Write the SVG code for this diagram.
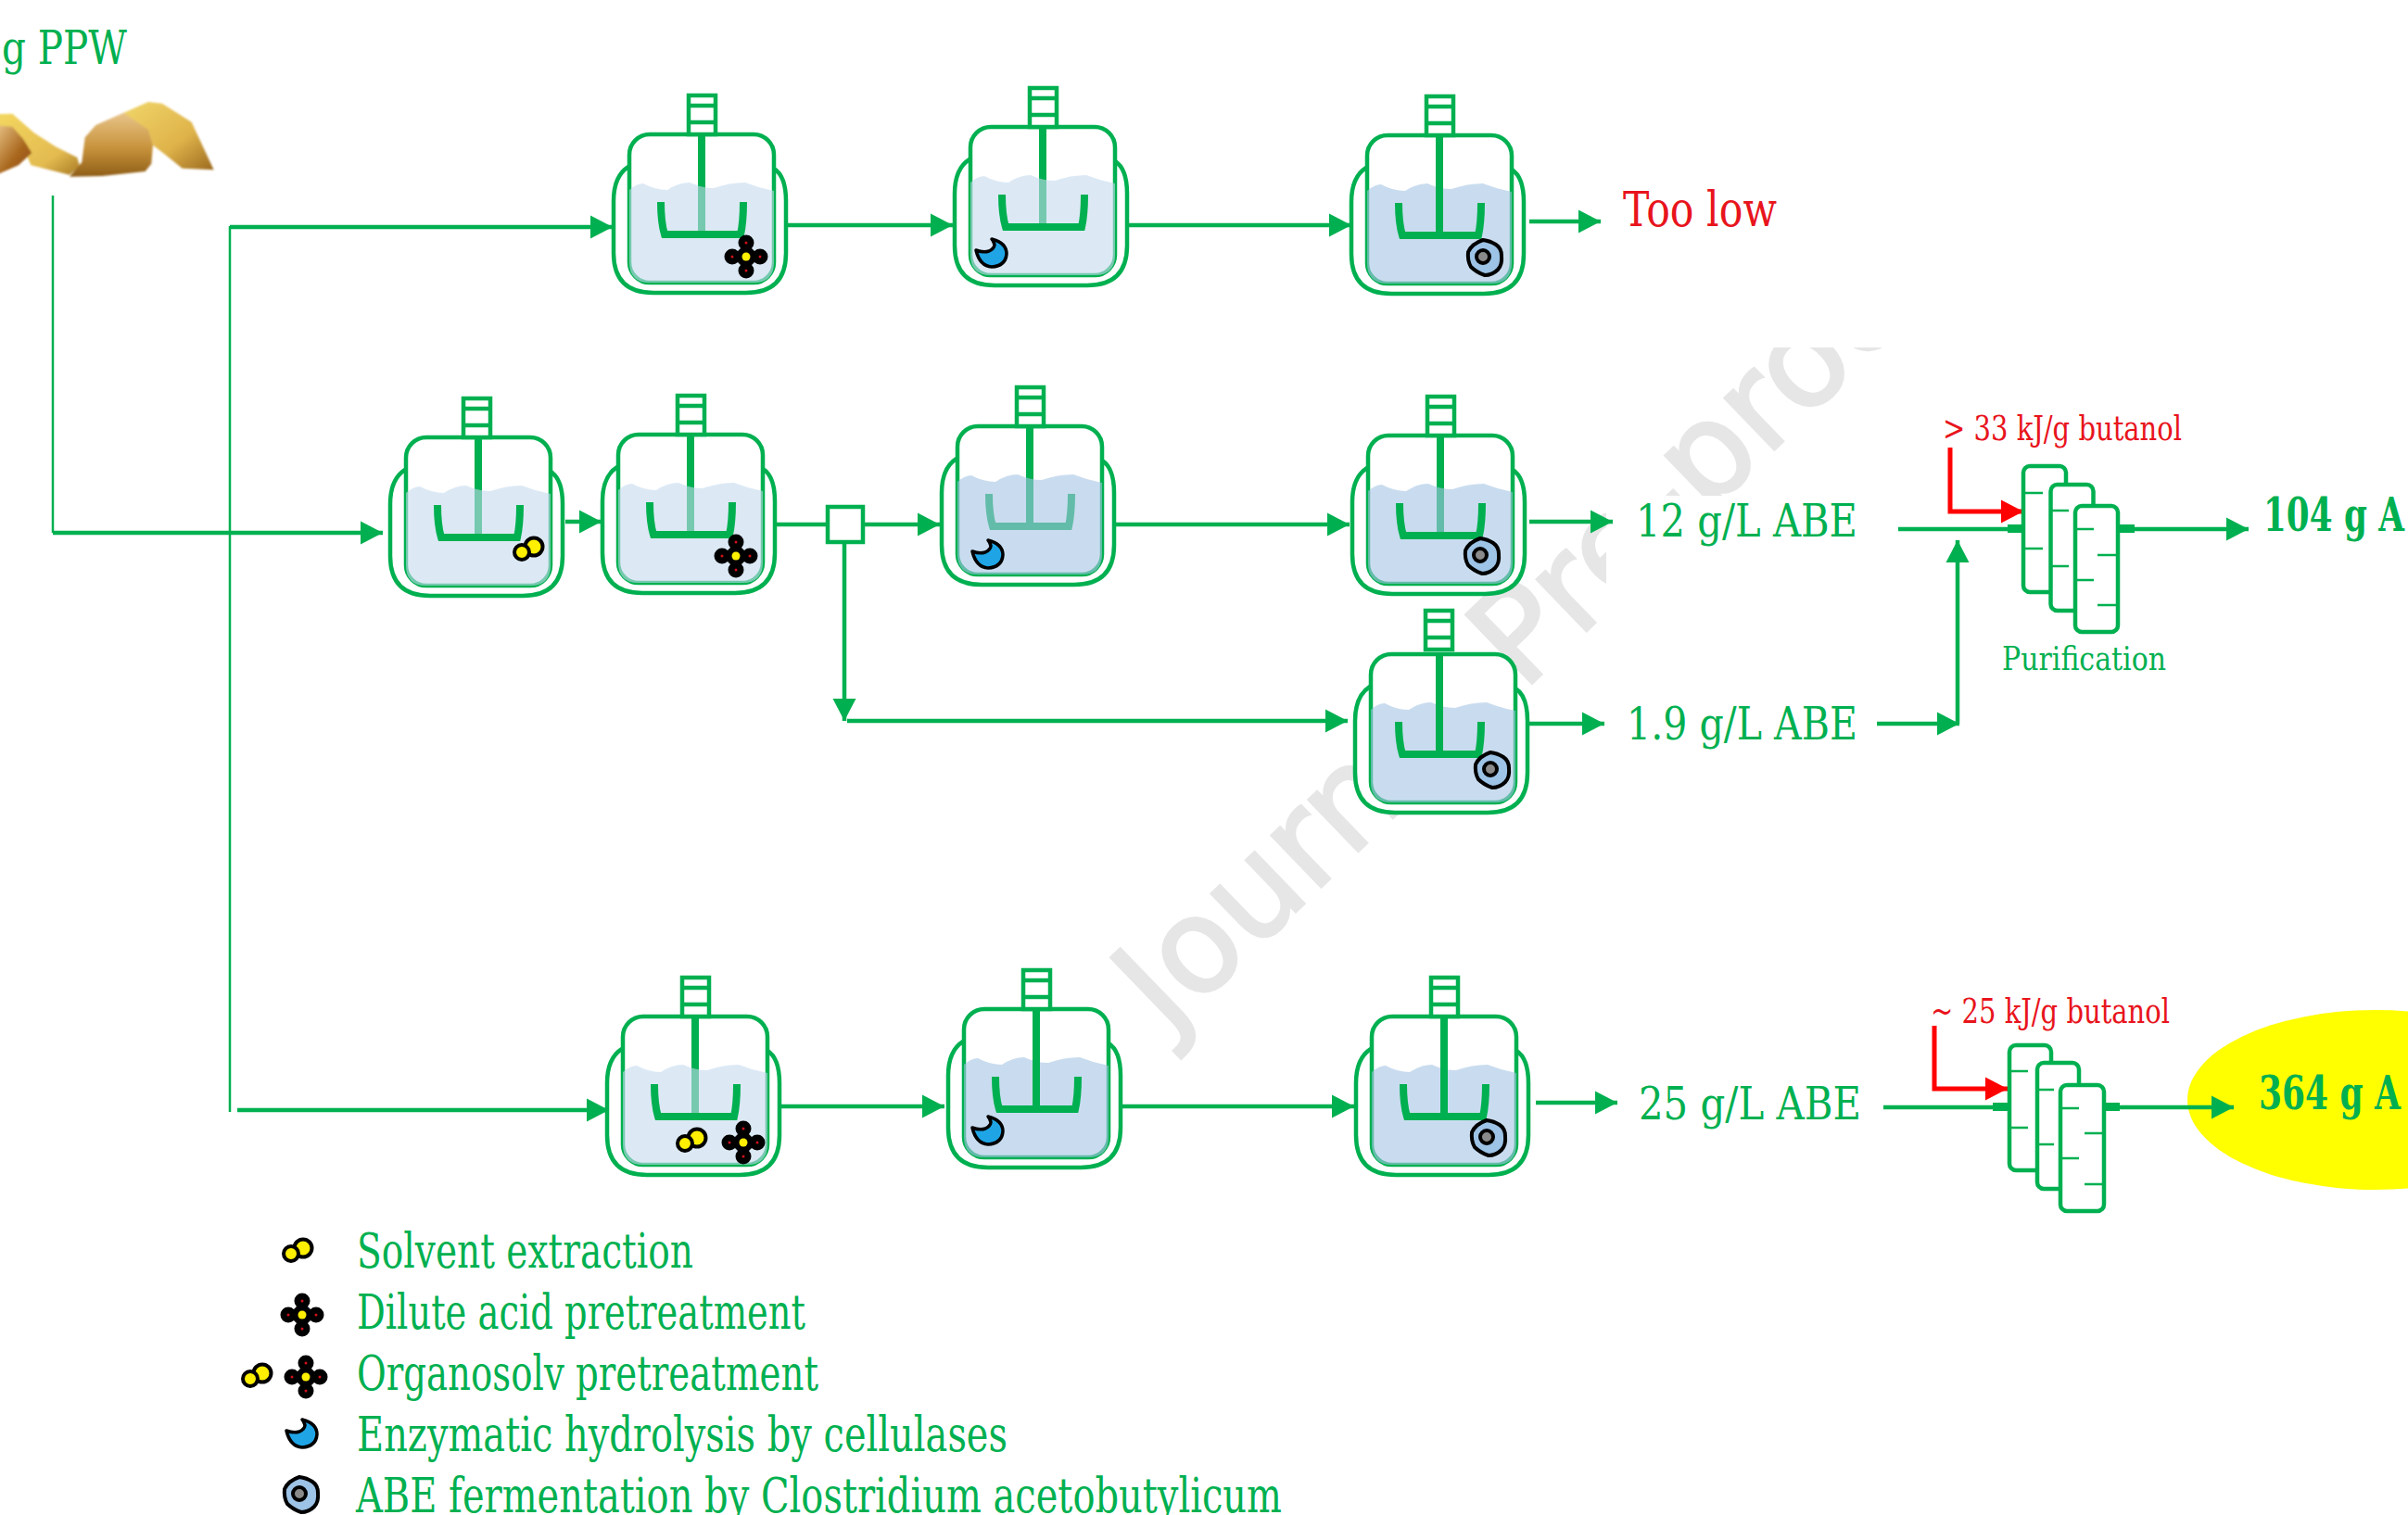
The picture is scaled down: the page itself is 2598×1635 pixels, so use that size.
<svg xmlns="http://www.w3.org/2000/svg" width="2598" height="1635" viewBox="0 0 2598 1635">
<style>
.t{font-family:"DejaVu Serif","Liberation Serif",serif;fill:#00b050}
.r{font-family:"DejaVu Serif","Liberation Serif",serif;fill:#e8141c}
.b{font-weight:700}
.g{fill:none;stroke:#00b050;stroke-width:4.5}
.w{fill:#fff;stroke:#00b050;stroke-width:4.5}
.c{fill:none;stroke:#00b050;stroke-width:4.5}
.thin{fill:none;stroke:#00b050;stroke-width:2.5}
.red{fill:none;stroke:#ff0000;stroke-width:5}
.tick{stroke:#00b050;stroke-width:2.5}
.stub{fill:#00b050}
.lo{fill:#c5daee;fill-opacity:.6}
.hi{fill:#a5c5e4;fill-opacity:.6}
.wm{font-family:"DejaVu Sans","Open Sans",sans-serif;font-size:141px;fill:#e6e6e6;stroke:#e6e6e6;stroke-width:3}
</style>
<defs>
<marker id="ah" markerUnits="userSpaceOnUse" markerWidth="25" markerHeight="26" refX="24" refY="13" orient="auto"><path d="M0 0.5L24 13L0 25.5Z" fill="#00b050"/></marker>
<marker id="ar" markerUnits="userSpaceOnUse" markerWidth="25" markerHeight="26" refX="24" refY="13" orient="auto"><path d="M0 0.5L24 13L0 25.5Z" fill="#ff0000"/></marker>
<clipPath id="wc"><path d="M0 375H2598V535H1733V1635H0Z"/></clipPath>
<filter id="soft" x="-5%" y="-5%" width="110%" height="110%"><feGaussianBlur stdDeviation="3.5"/></filter>
<linearGradient id="p1" x1="0" y1="0" x2="0" y2="1"><stop offset="0" stop-color="#e8c48a"/><stop offset=".55" stop-color="#c8933c"/><stop offset="1" stop-color="#8f5e18"/></linearGradient>
<linearGradient id="p2" x1="0" y1="0" x2="1" y2="1"><stop offset="0" stop-color="#f0d66a"/><stop offset=".6" stop-color="#dfb34a"/><stop offset="1" stop-color="#9c6a1e"/></linearGradient>
<linearGradient id="p3" x1="0" y1="0" x2="1" y2="1"><stop offset="0" stop-color="#f4d860"/><stop offset=".7" stop-color="#e3bb50"/><stop offset="1" stop-color="#a87a24"/></linearGradient>
<linearGradient id="p4" x1="0" y1="0" x2="1" y2="1"><stop offset="0" stop-color="#ecc88c"/><stop offset=".6" stop-color="#a8661c"/><stop offset="1" stop-color="#8f4a14"/></linearGradient>
<g id="base">
<path class="w" d="M-79 35Q-95 45-95 72V128Q-95 171-52 171H48Q91 171 91 128V72Q91 45 78 37"/>
<rect class="w" x="-78" y="0" width="156" height="160" rx="22"/>
</g>
<g id="cap"><rect class="w" x="-14" y="-42" width="29" height="42"/><path class="g" d="M-16-31H16M-16-13H16"/></g>
<rect id="shaft" x="-4" y="0" width="8" height="108" fill="#00b050"/>
<path id="liquid" d="M-78 60Q-70 53-63 53Q-50 60-37 60Q-25 52-13 52Q0 58 13 58Q30 52 47 52Q62 58 78 61V138Q78 160 56 160H-56Q-78 160-78 138Z"/>
<path id="paddle" d="M-44 73Q-44 95-40 108H42Q45 95 45 73" fill="none" stroke="#00b050" stroke-width="8"/>
<g id="acid"><path d="M0-15L15 0L0 15L-15 0Z" fill="#000"/><circle cy="-15" r="8.5"/><circle cy="15" r="8.5"/><circle cx="-15" r="8.5"/><circle cx="15" r="8.5"/><circle r="4.5" fill="#ffef00"/><g fill="#d0101c"><circle cy="-15" r="1.5"/><circle cy="15" r="1.5"/><circle cx="-15" r="1.5"/><circle cx="15" r="1.5"/></g></g>
<g id="solvent" fill="#ffef00" stroke="#000" stroke-width="4"><circle cx="6" cy="-3" r="9.5"/><circle cx="-7" cy="3" r="8"/></g>
<path id="enzyme" fill="#1fa5e6" stroke="#000" stroke-width="3.5" stroke-linejoin="round" d="M1-15Q17-11 17 1Q16 14 1 15Q-12 14-16-3Q-8 0-2-2Q4-5 4-9Q3-13 1-15Z"/>
<g id="cell"><path fill="#9dc3e6" stroke="#000" stroke-width="4" stroke-linejoin="round" d="M-2-19Q6-18 12-14Q18-10 18-2Q19 8 14 13Q8 19 0 19Q-9 16-15 10Q-19 3-18-6Q-14-15-2-19Z"/><circle cx="-2" cy="-1" r="7" fill="#8a8a8a" stroke="#000" stroke-width="4"/></g>
</defs>

<rect width="2598" height="1635" fill="#fff"/>
<g clip-path="url(#wc)"><text class="wm" transform="translate(1260 1117) rotate(-44)">Journal Pre-proo</text></g>

<g id="potato-peel" transform="translate(0 90) scale(.3333)" filter="url(#soft)">
<path fill="url(#p3)" d="M-20 100L40 98L110 160L180 205L250 240L258 268L225 296L100 265L60 170L-20 130Z"/>
<path fill="url(#p4)" d="M-20 135L40 140L75 180L103 225L60 265L-20 300Z"/>
<path fill="url(#p1)" d="M225 302L265 255L275 175L310 135L400 95L470 100L495 200L490 260L470 285L330 300Z"/>
<path fill="url(#p2)" d="M400 95L480 60L525 65L620 125L692 280L590 275L540 235L495 200L480 150Z"/>
</g>
<ellipse id="product-highlight" cx="2563" cy="1187" rx="203" ry="97" fill="#ffff00"/>

<g id="connectors">
<path class="thin" d="M57 211V575"/>
<path class="c" d="M57 575H413" marker-end="url(#ah)"/>
<path class="thin" d="M248 244V1200"/>
<path class="c" d="M248 245H661" marker-end="url(#ah)"/>
<path class="c" d="M256 1198H657" marker-end="url(#ah)"/>
<path class="c" d="M848 243H1028" marker-end="url(#ah)"/>
<path class="c" d="M1215 243H1458" marker-end="url(#ah)"/>
<path class="c" d="M1650 239H1727" marker-end="url(#ah)"/>
<path class="c" d="M610 563H649" marker-end="url(#ah)"/>
<path class="c" d="M838 566H893"/>
<path class="c" d="M931 566H1014" marker-end="url(#ah)"/>
<path class="c" d="M1202 566H1456" marker-end="url(#ah)"/>
<path class="c" d="M1650 563H1740" marker-end="url(#ah)"/>
<path class="c" d="M911 585V778" marker-end="url(#ah)"/>
<path class="c" d="M914 778H1454" marker-end="url(#ah)"/>
<path class="c" d="M1642 781H1731" marker-end="url(#ah)"/>
<path class="c" d="M2025 781H2114" marker-end="url(#ah)"/>
<path class="c" d="M2112 781V583" marker-end="url(#ah)"/>
<path class="c" d="M2048 571H2183"/>
<path class="c" d="M2285 571H2426" marker-end="url(#ah)"/>
<path class="red" d="M2104 483V552H2183" marker-end="url(#ar)"/>
<path class="c" d="M842 1194H1019" marker-end="url(#ah)"/>
<path class="c" d="M1208 1194H1461" marker-end="url(#ah)"/>
<path class="c" d="M1657 1190H1745" marker-end="url(#ah)"/>
<path class="c" d="M2032 1195H2168"/>
<path class="c" d="M2270 1195H2410" marker-end="url(#ah)"/>
<path class="red" d="M2087 1107V1175H2166" marker-end="url(#ar)"/>
<rect class="stub" x="2166" y="566" width="17" height="9"/>
<rect class="stub" x="2285" y="566" width="18" height="9"/>
<rect class="stub" x="2150" y="1190" width="17" height="9"/>
<rect class="stub" x="2270" y="1190" width="17" height="9"/>
</g>

<g id="splitter"><rect class="w" x="893" y="547" width="38" height="38" stroke-width="3"/></g>

<g id="reactor-top-1" transform="translate(757 145)"><use href="#base"/><use href="#cap"/><use href="#shaft"/><use href="#liquid" class="lo"/><use href="#paddle"/><use href="#acid" x="48" y="132"/></g>
<g id="reactor-top-2" transform="translate(1125 137)"><use href="#base"/><use href="#cap"/><use href="#shaft"/><use href="#liquid" class="lo"/><use href="#paddle"/><use href="#enzyme" x="-56" y="136"/></g>
<g id="reactor-top-3" transform="translate(1553 146)"><use href="#base"/><use href="#cap"/><use href="#liquid" class="hi"/><use href="#shaft"/><use href="#paddle"/><use href="#cell" x="49" y="132"/></g>
<g id="reactor-mid-1" transform="translate(516 472)"><use href="#base"/><use href="#cap" x="-2"/><use href="#shaft"/><use href="#liquid" class="lo"/><use href="#paddle"/><use href="#solvent" x="54" y="121"/></g>
<g id="reactor-mid-2" transform="translate(745 469)"><use href="#base"/><use href="#cap"/><use href="#shaft"/><use href="#liquid" class="lo"/><use href="#paddle"/><use href="#acid" x="49" y="131"/></g>
<g id="reactor-mid-3" transform="translate(1111 460)"><use href="#base"/><use href="#cap"/><use href="#shaft"/><use href="#paddle"/><use href="#liquid" class="hi"/><use href="#enzyme" x="-46" y="138"/></g>
<g id="reactor-mid-4" transform="translate(1554 470)"><use href="#base"/><use href="#cap"/><use href="#shaft"/><use href="#liquid" class="hi"/><use href="#paddle"/><use href="#cell" x="45" y="130"/></g>
<g id="reactor-mid-5" transform="translate(1557 706)"><use href="#base"/><use href="#cap" x="-5" y="-5"/><use href="#liquid" class="hi"/><use href="#shaft" x="-4"/><use href="#paddle" x="-4"/><use href="#cell" x="53" y="125"/></g>
<g id="reactor-low-1" transform="translate(750 1097)"><use href="#base"/><use href="#cap"/><use href="#shaft"/><use href="#liquid" class="lo"/><use href="#paddle"/><use href="#solvent" x="-4" y="134"/><use href="#acid" x="52" y="136"/></g>
<g id="reactor-low-2" transform="translate(1118 1089)"><use href="#base"/><use href="#cap"/><use href="#liquid" class="hi"/><use href="#shaft"/><use href="#paddle"/><use href="#enzyme" x="-53" y="131"/></g>
<g id="reactor-low-3" transform="translate(1558 1097)"><use href="#base"/><use href="#cap"/><use href="#liquid" class="hi"/><use href="#shaft"/><use href="#paddle"/><use href="#cell" x="48" y="131"/></g>

<g id="column-upper">
<rect class="w" x="2183" y="503" width="46" height="136" rx="7"/><rect class="w" x="2212.5" y="523" width="46" height="136" rx="7"/><rect class="w" x="2239" y="546" width="46" height="136" rx="7"/>
<path class="tick" d="M2185 532H2204M2185 592H2204M2214 551H2232M2214 611H2232M2241 571H2259M2241 626H2259M2263 599H2283M2263 653H2283"/>
</g>
<g id="column-lower">
<rect class="w" x="2168" y="1128" width="45" height="135" rx="7"/><rect class="w" x="2198" y="1147" width="45" height="136" rx="7"/><rect class="w" x="2223" y="1171" width="47" height="136" rx="7"/>
<path class="tick" d="M2170 1156H2188M2170 1217H2188M2200 1176H2216M2200 1235H2216M2225 1196H2243M2225 1250H2243M2249 1223H2268M2249 1278H2268"/>
</g>

<text class="t" x="2" y="69" font-size="50" textLength="135" lengthAdjust="spacingAndGlyphs">g PPW</text>
<text class="r" x="1751" y="244" font-size="52" textLength="166" lengthAdjust="spacingAndGlyphs">Too low</text>
<text class="t" x="1765" y="579" font-size="48" textLength="239" lengthAdjust="spacingAndGlyphs">12 g/L ABE</text>
<text class="t" x="1755" y="798" font-size="48" textLength="249" lengthAdjust="spacingAndGlyphs">1.9 g/L ABE</text>
<text class="t" x="1768" y="1208" font-size="48" textLength="240" lengthAdjust="spacingAndGlyphs">25 g/L ABE</text>
<text class="r" x="2096" y="475" font-size="37" textLength="258" lengthAdjust="spacingAndGlyphs">&gt; 33 kJ/g butanol</text>
<text class="r" x="2083" y="1104" font-size="37" textLength="258" lengthAdjust="spacingAndGlyphs">~ 25 kJ/g butanol</text>
<text class="t" x="2160" y="723" font-size="36" textLength="177" lengthAdjust="spacingAndGlyphs">Purification</text>
<text class="t b" x="2442" y="573" font-size="50" textLength="152" lengthAdjust="spacingAndGlyphs">104 g A</text>
<text class="t b" x="2437" y="1197" font-size="50" textLength="153" lengthAdjust="spacingAndGlyphs">364 g A</text>

<g id="legend">
<use href="#solvent" x="321" y="1350"/><use href="#acid" x="326" y="1419"/><use href="#solvent" x="277" y="1485"/><use href="#acid" x="330" y="1486"/><use href="#enzyme" x="325" y="1547"/><use href="#cell" x="325" y="1613"/>
<text class="t" x="385" y="1368" font-size="52" textLength="363" lengthAdjust="spacingAndGlyphs">Solvent extraction</text>
<text class="t" x="385" y="1434" font-size="52" textLength="484" lengthAdjust="spacingAndGlyphs">Dilute acid pretreatment</text>
<text class="t" x="385" y="1500" font-size="52" textLength="498" lengthAdjust="spacingAndGlyphs">Organosolv pretreatment</text>
<text class="t" x="385" y="1566" font-size="52" textLength="702" lengthAdjust="spacingAndGlyphs">Enzymatic hydrolysis by cellulases</text>
<text class="t" x="384" y="1632" font-size="52" textLength="999" lengthAdjust="spacingAndGlyphs">ABE fermentation by Clostridium acetobutylicum</text>
</g>
</svg>
